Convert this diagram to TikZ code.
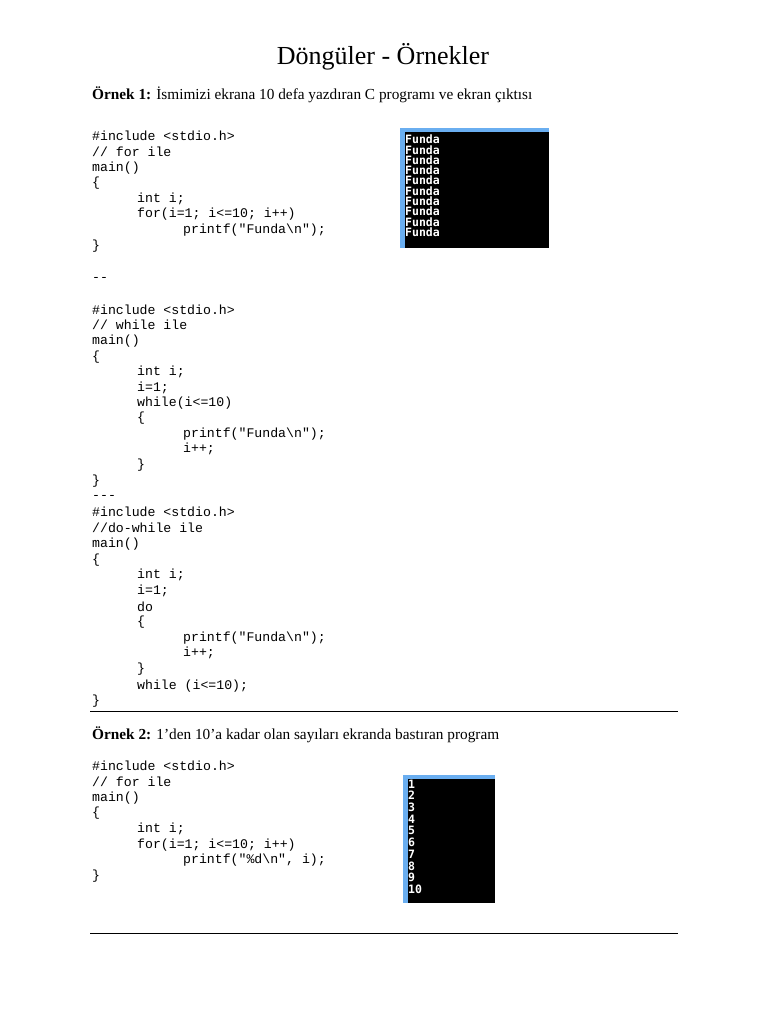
\documentclass[tikz,border=0pt]{standalone}
\usepackage{fontspec}
\setmainfont{Liberation Serif}
\newfontfamily\codefont{Liberation Mono}
\newfontfamily\confont{DejaVu Sans Mono}
\definecolor{conblue}{HTML}{6AAEF0}
\begin{document}
\begin{tikzpicture}[x=1pt,y=-1pt,
  code/.style={anchor=west,inner sep=0pt,font=\codefont\fontsize{13.2}{14}\selectfont},
  txt/.style={anchor=west,inner sep=0pt,font=\fontsize{15.3}{17}\selectfont},
  con/.style={anchor=west,inner sep=0pt,text=white,font=\confont\bfseries\fontsize{11.5}{12}\selectfont},
  rule/.style={line width=0.8pt}]
\useasboundingbox (0,0) rectangle (768,1024);
\fill[white] (0,0) rectangle (768,1024);
\node[inner sep=0pt,font=\fontsize{26}{30}\selectfont] (title) at (383,57) {Döngüler - Örnekler};
\node[txt] (o1) at (92,95) {\textbf{Örnek 1:} İsmimizi ekrana 10 defa yazdıran C programı ve ekran çıktısı};
% block 1
\foreach \y/\x/\t [count=\i] in {136/92/{\#include <stdio.h>},152/92/{// for ile},168/92/{main()},183/92/{\{},199/137/{int i;},214/137/{for(i=1; i<=10; i++)},230/183/{printf("Funda\textbackslash n");},246/92/{\}},279/92/{-{}-},
 310/92/{\#include <stdio.h>},325/92/{// while ile},341/92/{main()},357/92/{\{},372/137/{int i;},388/137/{i=1;},403/137/{while(i<=10)},418/137/{\{},434/183/{printf("Funda\textbackslash n");},449/183/{i++;},465/137/{\}},481/92/{\}},497/92/{-{}-{}-},
 512/92/{\#include <stdio.h>},528/92/{//do-while ile},544/92/{main()},560/92/{\{},575/137/{int i;},591/137/{i=1;},607/137/{do},622/137/{\{},638/183/{printf("Funda\textbackslash n");},653/183/{i++;},669/137/{\}},686/137/{while (i<=10);},701/92/{\}}}
  \node[code] (c\i) at (\x,\y) {\t};
\draw[rule] (90,711) -- (678,711);
\node[txt] (o2) at (92,735) {\textbf{Örnek 2:} 1’den 10’a kadar olan sayıları ekranda bastıran program};
\foreach \y/\x/\t [count=\i] in {766/92/{\#include <stdio.h>},782/92/{// for ile},798/92/{main()},813/92/{\{},829/137/{int i;},845/137/{for(i=1; i<=10; i++)},860/183/{printf("\%d\textbackslash n", i);},876/92/{\}}}
  \node[code] (d\i) at (\x,\y) {\t};
\draw[rule] (90,933) -- (678,933);
% console 1
\fill[conblue] (400,128) rectangle (549,248);
\fill[black] (405,132) rectangle (549,248);
\foreach \k in {0,...,9}
  \node[con] (f\k) at (405,{139.5+10.3*\k}) {Funda};
% console 2
\fill[conblue] (403,775) rectangle (495,903);
\fill[black] (408,779) rectangle (495,903);
\foreach \k in {1,...,10}
  \node[con] (n\k) at (408,{784+11.7*(\k-1)}) {\k};
\end{tikzpicture}
\end{document}
